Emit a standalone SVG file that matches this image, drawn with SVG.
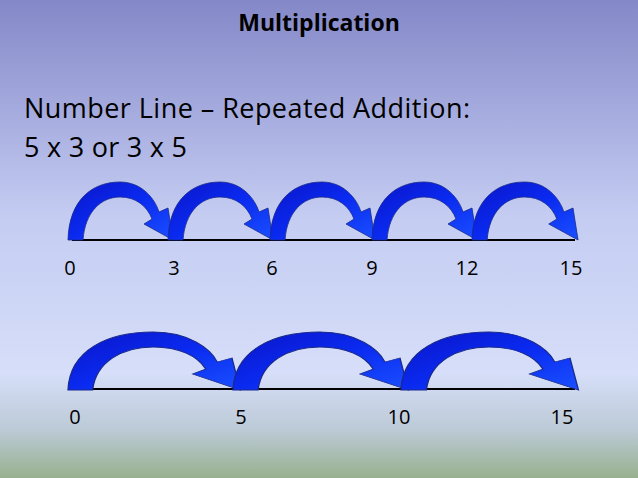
<svg xmlns="http://www.w3.org/2000/svg" width="638" height="478" viewBox="0 0 638 478">
<defs>
<linearGradient id="bg" x1="0" y1="0" x2="0" y2="1">
<stop offset="0" stop-color="#8488c8"/><stop offset="0.45" stop-color="#c4ccf2"/><stop offset="0.78" stop-color="#d6def9"/><stop offset="0.9" stop-color="#bccad6"/><stop offset="1" stop-color="#98b08e"/>
</linearGradient>
<linearGradient id="ar" x1="0" y1="0" x2="1" y2="1">
<stop offset="0" stop-color="#0a14c8"/><stop offset="0.5" stop-color="#0a2af0"/><stop offset="1" stop-color="#1a50ff"/>
</linearGradient>
<path id="arc" d="M0,58 C1,18 24,0 52,0 C74,0 87,17 91,30 L100,26 L105,58 L76,42 L84,37 C79,24 68,15 52,15 C33,15 17,30 15,58 Z"/>
<style>
.a{fill:url(#ar);stroke:#1a2a8a;stroke-width:0.8}
.ln{stroke:#000;stroke-width:2}
.t{font-family:"Open Sans","Liberation Sans",sans-serif;fill:#000}
.n{font-family:"Open Sans","Liberation Sans",sans-serif;font-size:20px;text-anchor:middle;fill:#000}
</style>
</defs>
<rect width="638" height="478" fill="url(#bg)"/>
<g id="title"><text class="t" x="319" y="31" font-size="23" font-weight="bold" text-anchor="middle">Multiplication</text></g>
<g id="heading"><text class="t" x="24" y="118" font-size="27" textLength="446">Number Line – Repeated Addition:</text>
<text class="t" x="24" y="157" font-size="27" textLength="163">5 x 3 or 3 x 5</text></g>
<g id="connectors">
<line class="ln" x1="72" y1="240" x2="575" y2="240"/>
<line class="ln" x1="72" y1="389" x2="575" y2="389"/>
</g>
<g id="row1">
<use href="#arc" class="a" transform="translate(68,182)"/>
<use href="#arc" class="a" transform="translate(168,182)"/>
<use href="#arc" class="a" transform="translate(270,182)"/>
<use href="#arc" class="a" transform="translate(372,182)"/>
<use href="#arc" class="a" transform="translate(472,182) scale(1.01,1)"/>
</g>
<g id="row2">
<use href="#arc" class="a" transform="translate(68,332) scale(1.64,1)"/>
<use href="#arc" class="a" transform="translate(233,332) scale(1.67,1)"/>
<use href="#arc" class="a" transform="translate(401,332) scale(1.69,1)"/>
</g>
<g id="labels1">
<text class="n" x="70" y="275">0</text><text class="n" x="174" y="275">3</text><text class="n" x="272" y="275">6</text><text class="n" x="372" y="275">9</text><text class="n" x="467" y="275">12</text><text class="n" x="571" y="275">15</text>
</g>
<g id="labels2">
<text class="n" x="75" y="424">0</text><text class="n" x="241" y="424">5</text><text class="n" x="399" y="424">10</text><text class="n" x="562" y="424">15</text>
</g>
</svg>
